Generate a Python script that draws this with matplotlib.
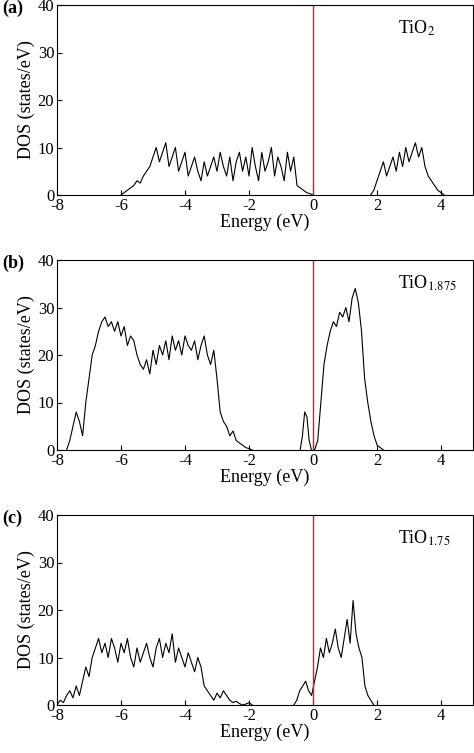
import numpy as np
import matplotlib
matplotlib.use("Agg")
import matplotlib.pyplot as plt

plt.rcParams['font.family'] = ['Liberation Serif', 'DejaVu Serif']
plt.rcParams['mathtext.fontset'] = 'stix'
plt.rcParams['axes.unicode_minus'] = False

a_val = [0,0.5,1,1.5,2,3,2.5,4,5,6,8,10,7,9,11,6,8,10,5,7,9,4,6,8,5,3,7,4,6,8,5,9,6,4,8,3,7,9,5,8,4,10,6,3,9,5,7,10,4,8,6,3,9,5,8,2,1.5,1,0.5,0.3,0]
a_con = [0,1,3,5,7,4,6,8,5,9,6,10,7,9,11,8,10,6,4,3,2,1,0.5,0]
b_val = [0,2,5,8,6,3,10,15,20,22,25,27,28,26,27,25,27,24,26,22,24,23,20,18,17,19,16,21,18,22,20,23,19,24,21,23,20,24,22,21,23,19,22,24,20,18,21,15,8,6,5,3,4,2,1.5,1,0.5,0.3,0]
b_gap = [0,3,8,7,2,0]
b_con = [0,2,10,18,22,25,27,26,29,28,30,27,32,34,31,25,15,10,6,3,1,0.5,0]
c_val = [0,1,0.5,2,3,1.5,4,2,5,8,6,10,12,14,11,13,10,14,12,9,13,11,14,10,8,12,9,11,13,10,8,12,14,10,13,11,15,9,12,10,8,11,9,7,10,8,4,3,2,1,2.5,1.5,3,2,1,0.5,0.8,0.3,0,0.2,0.5,0]
c_con = [0,1,3,4,5,3,2,5,8,12,10,14,11,13,16,12,10,14,18,13,22,15,12,10,4,2,1,0]

panels = [
    ("(a)", r"TiO$_2$", [(-6.0, 0.0, a_val), (1.8, 4.1, a_con)]),
    ("(b)", r"TiO$_{1.875}$", [(-7.7, -1.9, b_val), (-0.4, -0.05, b_gap), (0.05, 2.2, b_con)]),
    ("(c)", r"TiO$_{1.75}$", [(-8.0, -1.9, c_val), (-0.6, 1.9, c_con)]),
]

fig = plt.figure(figsize=(4.74, 7.53), dpi=100)
bottoms = [1-195/753, 1-450/753, 1-705/753]
h = 190/753
for (lab, name, segs), b in zip(panels, bottoms):
    ax = fig.add_axes([57/474, b, 416/474, h])
    for s, e, v in segs:
        ax.plot(np.linspace(s, e, len(v)), v, color='black', lw=0.8)
    ax.axvline(0, color='#d0202a', lw=1.0)
    ax.set_xlim(-8, 5)
    ax.set_ylim(0, 40)
    ax.set_xticks([-8, -6, -4, -2, 0, 2, 4])
    ax.set_yticks([0, 10, 20, 30, 40])
    ax.tick_params(direction='in', labelsize=12, top=False, right=False, pad=2)
    ax.set_xlabel('Energy (eV)', fontsize=13, labelpad=0)
    ax.set_ylabel('DOS (states/eV)', fontsize=13, labelpad=2)
    ax.text(0.82, 0.85, name, transform=ax.transAxes, fontsize=13)
    fig.text(2/474, b + h - 8/753, lab, fontsize=13, fontweight='bold')

fig.savefig('out.png', dpi=100)
